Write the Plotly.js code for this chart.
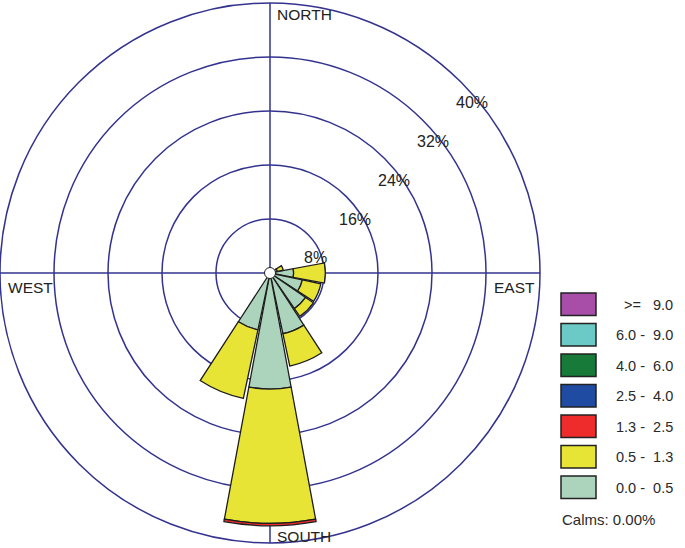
<!DOCTYPE html>
<html>
<head>
<meta charset="utf-8">
<script src="https://cdn.plot.ly/plotly-3.0.1.min.js"></script>
<style>
  html, body { margin: 0; padding: 0; background: #fff; }
  #chart { width: 685px; height: 548px; }
</style>
</head>
<body>
<div id="chart"></div>
<script>
// wind directions, clockwise from north
const directions = ['N', 'NNE', 'NE', 'ENE', 'E', 'ESE', 'SE', 'SSE', 'S', 'SSW', 'SW', 'WSW', 'W', 'WNW', 'NW', 'NNW'];
const dirAngles = [0, 22.5, 45, 67.5, 90, 112.5, 135, 157.5, 180, 202.5, 225, 247.5, 270, 292.5, 315, 337.5];

// speed classes (m/s), lowest first
const binLabels = ['0.0 -  0.5', '0.5 -  1.3', '1.3 -  2.5', '2.5 -  4.0', '4.0 -  6.0', '6.0 -  9.0', '>=   9.0'];
const binColors = ['#acd3bb', '#e8e436', '#ee2c2c', '#1f4ba3', '#177a38', '#6ccac6', '#a84da8'];

// frequency (%) per direction for each speed class
const bin0 = [0.3, 0.3, 0.3, 1.1, 3.5, 4.9, 6.4, 9.2, 17.2, 8.6, 0.3, 0.3, 0.3, 0.3, 0.3, 0.3];
const bin1 = [0, 0, 0, 0.9, 4.7, 2.8, 1.4, 4.9, 19.9, 10.4, 0, 0, 0, 0, 0, 0];
const bin2 = [0, 0, 0, 0, 0, 0, 0, 0, 0.35, 0, 0, 0, 0, 0, 0, 0];
const bin3 = [0, 0, 0, 0, 0, 0, 0, 0, 0, 0, 0, 0, 0, 0, 0, 0];
const bin4 = [0, 0, 0, 0, 0, 0, 0, 0, 0, 0, 0, 0, 0, 0, 0, 0];
const bin5 = [0, 0, 0, 0, 0, 0, 0, 0, 0, 0, 0, 0, 0, 0, 0, 0];
const bin6 = [0, 0, 0, 0, 0, 0, 0, 0, 0, 0, 0, 0, 0, 0, 0, 0];
const binValues = [bin0, bin1, bin2, bin3, bin4, bin5, bin6];

const ringValues = [8, 16, 24, 32, 40];
const calms = '0.00%';

// page geometry (px)
const W = 685, H = 548;
const cx = 270, cy = 273, R = 270;
const gridColor = '#33338f';
const fontFam = 'Liberation Sans, Arial, sans-serif';

const px = x => x / W;
const py = y => 1 - y / H;

const traces = binValues.map((vals, i) => ({
    type: 'barpolar',
    name: binLabels[i],
    r: vals.map(v => v === 0 ? null : v),
    theta: dirAngles,
    width: 21,
    marker: { color: binColors[i], line: { color: '#1c1c1c', width: 1.3 } },
    showlegend: false,
    hoverinfo: 'skip'
}));

const annotations = [];
const shapes = [];

// compass labels
[
    ['NORTH', 275, 14],
    ['EAST', 492, 287],
    ['SOUTH', 275, 536],
    ['WEST', 6, 287]
].forEach(([t, x, y]) => {
    annotations.push({
        text: t, x: px(x), y: py(y), xref: 'paper', yref: 'paper',
        xanchor: 'left', yanchor: 'middle', showarrow: false,
        font: { family: fontFam, size: 15.5, color: '#222' }
    });
});

// ring labels along the upper-right diagonal
ringValues.forEach(v => {
    const r = v / 40 * R;
    annotations.push({
        text: v + '%', x: px(cx + 6 + r * 0.727), y: py(cy + 23.75 - r * 0.7176),
        xref: 'paper', yref: 'paper', xanchor: 'center', yanchor: 'middle', showarrow: false,
        font: { family: fontFam, size: 16, color: '#222' }
    });
});

// legend, highest class on top
for (let k = 0; k < binLabels.length; k++) {
    const i = binLabels.length - 1 - k;
    const top = 293 + k * 30.5;
    shapes.push({
        type: 'rect', xref: 'paper', yref: 'paper',
        x0: px(561), x1: px(596), y0: py(top), y1: py(top + 22.5),
        fillcolor: binColors[i], line: { color: '#222', width: 1.5 }
    });
    annotations.push({
        text: binLabels[i].replace(/ /g, '&nbsp;'), x: px(675), y: py(top + 11.5),
        xref: 'paper', yref: 'paper', xanchor: 'right', yanchor: 'middle', showarrow: false,
        font: { family: fontFam, size: 14.5, color: '#2a2a2a' }
    });
}
annotations.push({
    text: 'Calms: ' + calms, x: px(560), y: py(519), xref: 'paper', yref: 'paper',
    xanchor: 'left', yanchor: 'middle', showarrow: false,
    font: { family: fontFam, size: 15, color: '#2a2a2a' }
});

// calm circle in the centre
shapes.push({
    type: 'circle', xref: 'paper', yref: 'paper',
    x0: px(cx - 5.5), x1: px(cx + 5.5), y0: py(cy + 5.5), y1: py(cy - 5.5),
    fillcolor: '#fff', line: { color: '#222', width: 1 }
});

const layout = {
    width: W,
    height: H,
    margin: { l: 0, r: 0, t: 0, b: 0 },
    paper_bgcolor: '#fff',
    showlegend: false,
    hovermode: false,
    polar: {
        domain: { x: [px(cx - R), px(cx + R)], y: [py(cy + R), py(cy - R)] },
        bgcolor: '#fff',
        barmode: 'stack',
        radialaxis: {
            range: [0, 40], tickvals: ringValues, showticklabels: false, ticks: '',
            showline: false, gridcolor: gridColor, gridwidth: 1.5
        },
        angularaxis: {
            rotation: 90, direction: 'clockwise', tickvals: [0, 90, 180, 270],
            showticklabels: false, ticks: '', gridcolor: gridColor, gridwidth: 1.5,
            showline: true, linecolor: gridColor, linewidth: 1.5
        }
    },
    annotations: annotations,
    shapes: shapes
};

Plotly.newPlot('chart', traces, layout, { displayModeBar: false, staticPlot: true });
</script>
</body>
</html>
